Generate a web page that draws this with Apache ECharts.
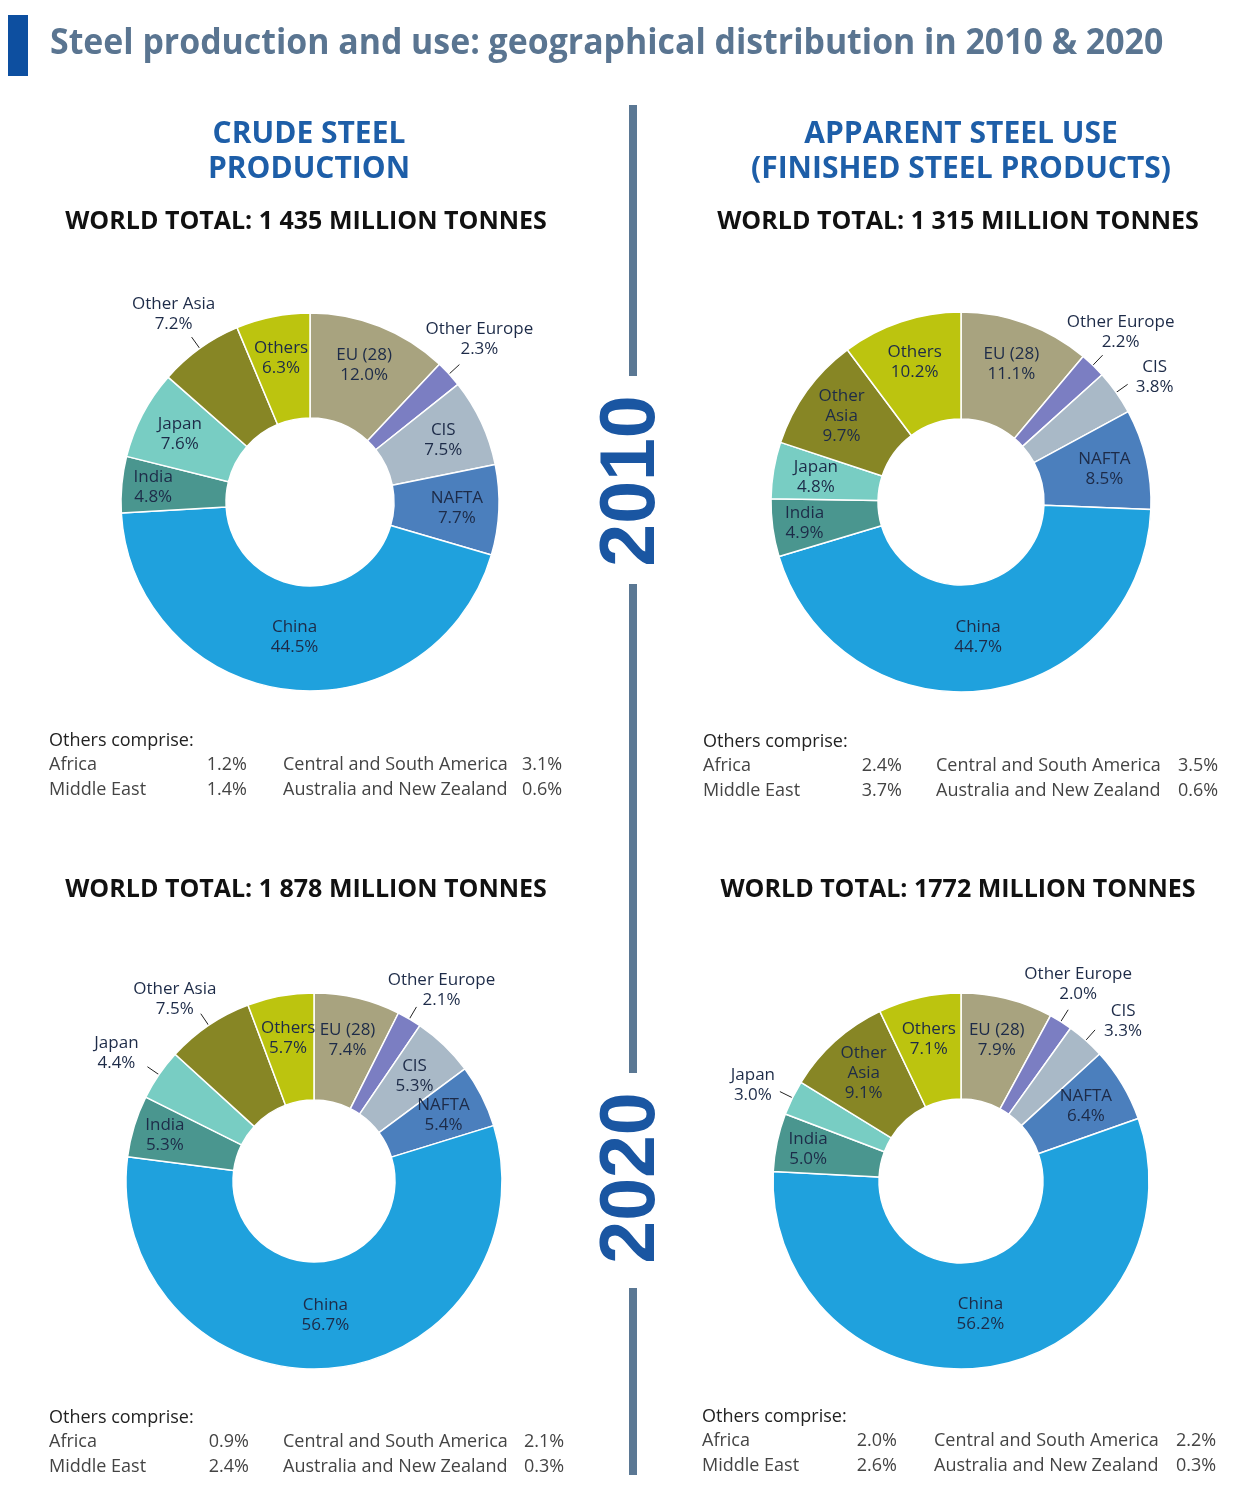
<!DOCTYPE html>
<html>
<head>
<meta charset="utf-8">
<script src="https://cdn.jsdelivr.net/npm/echarts@6/dist/echarts.min.js"></script>
<style>
html, body { margin: 0; padding: 0; background: #fff; }
#chart { width: 1244px; height: 1503px; }
</style>
</head>
<body>
<div id="chart"></div>
<script>
// regions, clockwise from 12 o'clock
var regions = ['EU (28)', 'Other Europe', 'CIS', 'NAFTA', 'China', 'India', 'Japan', 'Other Asia', 'Others'];
var regionColors = ['#a8a37f', '#7b7ec2', '#a9b9c7', '#4b7fbd', '#1fa1dd', '#4a968f', '#78cdc3', '#878625', '#bcc40f'];

// shares in %
var prod2010 = [12.0, 2.3, 7.5, 7.7, 44.5, 4.8, 7.6, 7.2, 6.3];
var use2010 = [11.1, 2.2, 3.8, 8.5, 44.7, 4.9, 4.8, 9.7, 10.2];
var prod2020 = [7.4, 2.1, 5.3, 5.4, 56.7, 5.3, 4.4, 7.5, 5.7];
var use2020 = [7.9, 2.0, 3.3, 6.4, 56.2, 5.0, 3.0, 9.1, 7.1];

// "Others comprise" breakdown
var othersRegions = ['Africa', 'Middle East', 'Central and South America', 'Australia and New Zealand'];
var othersProd2010 = [1.2, 1.4, 3.1, 0.6];
var othersUse2010 = [2.4, 3.7, 3.5, 0.6];
var othersProd2020 = [0.9, 2.4, 2.1, 0.3];
var othersUse2020 = [2.0, 2.6, 2.2, 0.3];

var worldTotals = ['1 435', '1 315', '1 878', '1772'];

var allShares = [prod2010, use2010, prod2020, use2020];
var allOthers = [othersProd2010, othersUse2010, othersProd2020, othersUse2020];

// where each donut goes
var pies = [
  {center: [310, 502], r0: 84, r: 189},
  {center: [961, 502], r0: 83, r: 190},
  {center: [314, 1181], r0: 81, r: 188},
  {center: [961, 1181], r0: 82, r: 188}
];

// labels that sit outside the ring: text centre offset from the end of the leader line
var outsideLabels = [
  {'Other Europe': [20, -25], 'Other Asia': [-18, -23]},
  {'Other Europe': [18, -23], 'CIS': [27, -7]},
  {'Other Europe': [25, -17], 'Other Asia': [-26, -15], 'Japan': [-31, -14]},
  {'Other Europe': [10, -26], 'CIS': [28, -9], 'Japan': [-27, -6]}
];
// how far across the ring the inside labels sit (0 = hole edge, 1 = outer edge)
var labelDepth = {'China': 0.5, 'India': 0.7};

var headX = [309, 961, 309, 961];
var totalY = [222, 222, 890, 890];
var tables = [
  {x: 49, y: 741, v1: 198, c2: 234, v2: 473},
  {x: 703, y: 742, v1: 199, c2: 233, v2: 475},
  {x: 49, y: 1418, v1: 200, c2: 234, v2: 475},
  {x: 702, y: 1417, v1: 195, c2: 232, v2: 474}
];

var FONT = '"Open Sans", "Noto Sans", sans-serif';
var myChart = echarts.init(document.getElementById('chart'));

function isOutside(si, name) {
  return outsideLabels[si][name] !== undefined;
}

var series = allShares.map(function (shares, si) {
  var p = pies[si];
  return {
    type: 'pie',
    center: p.center,
    radius: [p.r0, p.r],
    startAngle: 90,
    clockwise: true,
    avoidLabelOverlap: false,
    silent: true,
    itemStyle: {borderColor: '#fff', borderWidth: 1.5},
    label: {
      show: true,
      position: 'inside',
      color: '#1d2b48',
      fontFamily: FONT,
      fontSize: 17,
      lineHeight: 20,
      formatter: function (d) {
        var name = d.name;
        if (!isOutside(si, name) && name === 'Other Asia') name = 'Other\nAsia';
        return name + '\n' + d.value.toFixed(1) + '%';
      }
    },
    labelLine: {show: false},
    labelLayout: function (params) {
      var name = regions[params.dataIndex];
      var lr = params.labelRect;
      if (isOutside(si, name)) {
        var pts = params.labelLinePoints;
        var p0 = pts[0], p1 = pts[1];
        var dx = p1[0] - p0[0], dy = p1[1] - p0[1];
        var len = Math.sqrt(dx * dx + dy * dy) || 1;
        dx /= len; dy /= len;
        var a = [p0[0] - 8 * dx, p0[1] - 8 * dy];
        var b = [p0[0] + 14 * dx, p0[1] + 14 * dy];
        var off = outsideLabels[si][name];
        return {
          x: b[0] + off[0], y: b[1] + off[1],
          align: 'center', verticalAlign: 'middle',
          labelLinePoints: [a, b, b]
        };
      }
      // move inside labels along the radius
      var cx = lr.x + lr.width / 2, cy = lr.y + lr.height / 2;
      var vx = cx - p.center[0], vy = cy - p.center[1];
      var d = Math.sqrt(vx * vx + vy * vy) || 1;
      var depth = labelDepth[name] !== undefined ? labelDepth[name] : 0.6;
      var target = p.r0 + depth * (p.r - p.r0);
      return {
        x: p.center[0] + vx / d * target,
        y: p.center[1] + vy / d * target,
        align: 'center', verticalAlign: 'middle'
      };
    },
    data: shares.map(function (v, i) {
      var item = {name: regions[i], value: v, itemStyle: {color: regionColors[i]}};
      if (isOutside(si, regions[i])) {
        item.label = {position: 'outside', alignTo: 'none'};
        item.labelLine = {show: true, length: 14, length2: 0, lineStyle: {color: '#222', width: 1}};
      }
      return item;
    })
  };
});

var graphics = [];
// title with its blue bar
graphics.push({type: 'rect', shape: {x: 8, y: 15, width: 20, height: 61}, style: {fill: '#0d4fa0'}});
graphics.push({
  type: 'text', x: 50, y: 44, scaleX: 0.94,
  style: {text: 'Steel production and use: geographical distribution in 2010 & 2020',
    font: 'bold 36px ' + FONT, fill: '#5a7591', textVerticalAlign: 'middle'}
});

// vertical divider and the two years
[[105, 376], [584, 1073], [1288, 1475]].forEach(function (seg) {
  graphics.push({type: 'rect', shape: {x: 629, y: seg[0], width: 8, height: seg[1] - seg[0]}, style: {fill: '#5b7894'}});
});
[['2010', 481], ['2020', 1178]].forEach(function (yr) {
  graphics.push({
    type: 'text', x: 633, y: yr[1], rotation: Math.PI / 2,
    style: {text: yr[0], font: 'bold 77px "Liberation Sans", Arial, sans-serif', fill: '#1a56a2',
      textAlign: 'center', textVerticalAlign: 'middle'}
  });
});

// column headings
[['CRUDE STEEL', 'PRODUCTION'], ['APPARENT STEEL USE', '(FINISHED STEEL PRODUCTS)']].forEach(function (lines, i) {
  lines.forEach(function (t, j) {
    graphics.push({
      type: 'text', x: headX[i], y: 134 + j * 35,
      style: {text: t, font: 'bold 30px ' + FONT, fill: '#1d5ea8', textAlign: 'center', textVerticalAlign: 'middle'}
    });
  });
});

worldTotals.forEach(function (t, i) {
  graphics.push({
    type: 'text', x: headX[i] - 3, y: totalY[i],
    style: {text: 'WORLD TOTAL: ' + t + ' MILLION TONNES', font: 'bold 25px ' + FONT, fill: '#111',
      textAlign: 'center', textVerticalAlign: 'middle'}
  });
});

// "Others comprise" tables
tables.forEach(function (tb, i) {
  var vals = allOthers[i];
  graphics.push({type: 'text', x: tb.x, y: tb.y,
    style: {text: 'Others comprise:', font: '18px ' + FONT, fill: '#222', textVerticalAlign: 'middle'}});
  for (var k = 0; k < 2; k++) {
    var ry = tb.y + 24 + k * 25;
    graphics.push({type: 'text', x: tb.x, y: ry,
      style: {text: othersRegions[k], font: '18px ' + FONT, fill: '#444', textVerticalAlign: 'middle'}});
    graphics.push({type: 'text', x: tb.x + tb.v1, y: ry,
      style: {text: vals[k].toFixed(1) + '%', font: '18px ' + FONT, fill: '#444', textAlign: 'right', textVerticalAlign: 'middle'}});
    graphics.push({type: 'text', x: tb.x + tb.c2, y: ry,
      style: {text: othersRegions[k + 2], font: '18px ' + FONT, fill: '#444', textVerticalAlign: 'middle'}});
    graphics.push({type: 'text', x: tb.x + tb.v2, y: ry,
      style: {text: vals[k + 2].toFixed(1) + '%', font: '18px ' + FONT, fill: '#444', textVerticalAlign: 'middle'}});
  }
});

myChart.setOption({
  animation: false,
  backgroundColor: '#fff',
  graphic: graphics,
  series: series
});
</script>
</body>
</html>
